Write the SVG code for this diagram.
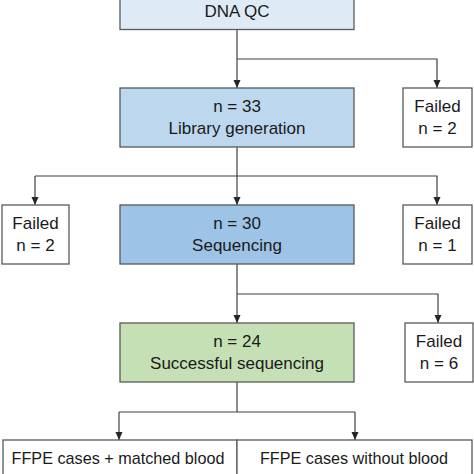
<svg xmlns="http://www.w3.org/2000/svg" width="474" height="474" viewBox="0 0 474 474">
<style>
.b{stroke:#595959;stroke-width:1.3}
.t{font-family:"Liberation Sans",Arial,sans-serif;font-size:17px;fill:#1a1a1a;text-anchor:middle}
.s{font-size:16.2px}
.c{fill:none;stroke:#404040;stroke-width:1.2}
</style>
<defs>
<marker id="ah" viewBox="0 0 8 8" refX="8" refY="4" markerWidth="8" markerHeight="8" markerUnits="userSpaceOnUse" orient="auto">
<path d="M0,0.5 L8,4 L0,7.5 Z" fill="#262626"/>
</marker>
</defs>
<rect width="474" height="474" fill="#ffffff"/>
<g id="connectors">
<path class="c" d="M237,30 V88" marker-end="url(#ah)"/>
<path class="c" d="M237,59 H437 V88" marker-end="url(#ah)"/>
<path class="c" d="M237,147 V205" marker-end="url(#ah)"/>
<path class="c" d="M35,176 H437 V205" marker-end="url(#ah)"/>
<path class="c" d="M35,176 V205" marker-end="url(#ah)"/>
<path class="c" d="M237,264 V323" marker-end="url(#ah)"/>
<path class="c" d="M237,294 H438 V323" marker-end="url(#ah)"/>
<path class="c" d="M237,382 V412"/>
<path class="c" d="M119,412 H355"/>
<path class="c" d="M119,412 V440" marker-end="url(#ah)"/>
<path class="c" d="M355,412 V440" marker-end="url(#ah)"/>
</g>
<g id="dnaqc">
<rect class="b" x="120" y="-5" width="234" height="34.5" fill="#deebf7"/>
<text class="t" x="237" y="17">DNA QC</text>
</g>
<g id="library">
<rect class="b" x="120" y="88" width="234" height="59" fill="#bdd7ee"/>
<text class="t" x="237" y="112">n = 33</text>
<text class="t" x="237" y="134">Library generation</text>
</g>
<g id="failed1">
<rect class="b" x="403" y="88" width="69" height="59" fill="#ffffff"/>
<text class="t" x="437.5" y="112">Failed</text>
<text class="t" x="437.5" y="134">n = 2</text>
</g>
<g id="failed2">
<rect class="b" x="2" y="205" width="67" height="59" fill="#ffffff"/>
<text class="t" x="35.5" y="229">Failed</text>
<text class="t" x="35.5" y="251">n = 2</text>
</g>
<g id="sequencing">
<rect class="b" x="120" y="205" width="234" height="59" fill="#9dc3e6"/>
<text class="t" x="237" y="229">n = 30</text>
<text class="t" x="237" y="251">Sequencing</text>
</g>
<g id="failed3">
<rect class="b" x="403" y="205" width="69" height="59" fill="#ffffff"/>
<text class="t" x="437.5" y="229">Failed</text>
<text class="t" x="437.5" y="251">n = 1</text>
</g>
<g id="successful">
<rect class="b" x="120" y="323" width="234" height="59" fill="#c5e0b4"/>
<text class="t" x="237" y="347">n = 24</text>
<text class="t" x="237" y="369">Successful sequencing</text>
</g>
<g id="failed4">
<rect class="b" x="405" y="323" width="68" height="59" fill="#ffffff"/>
<text class="t" x="439" y="347">Failed</text>
<text class="t" x="439" y="369">n = 6</text>
</g>
<g id="matched">
<rect class="b" x="3" y="440" width="234" height="40" fill="#ffffff"/>
<text class="t s" x="118" y="464">FFPE cases + matched blood</text>
</g>
<g id="without">
<rect class="b" x="237" y="440" width="235" height="40" fill="#ffffff"/>
<text class="t s" x="354" y="464">FFPE cases without blood</text>
</g>
</svg>
